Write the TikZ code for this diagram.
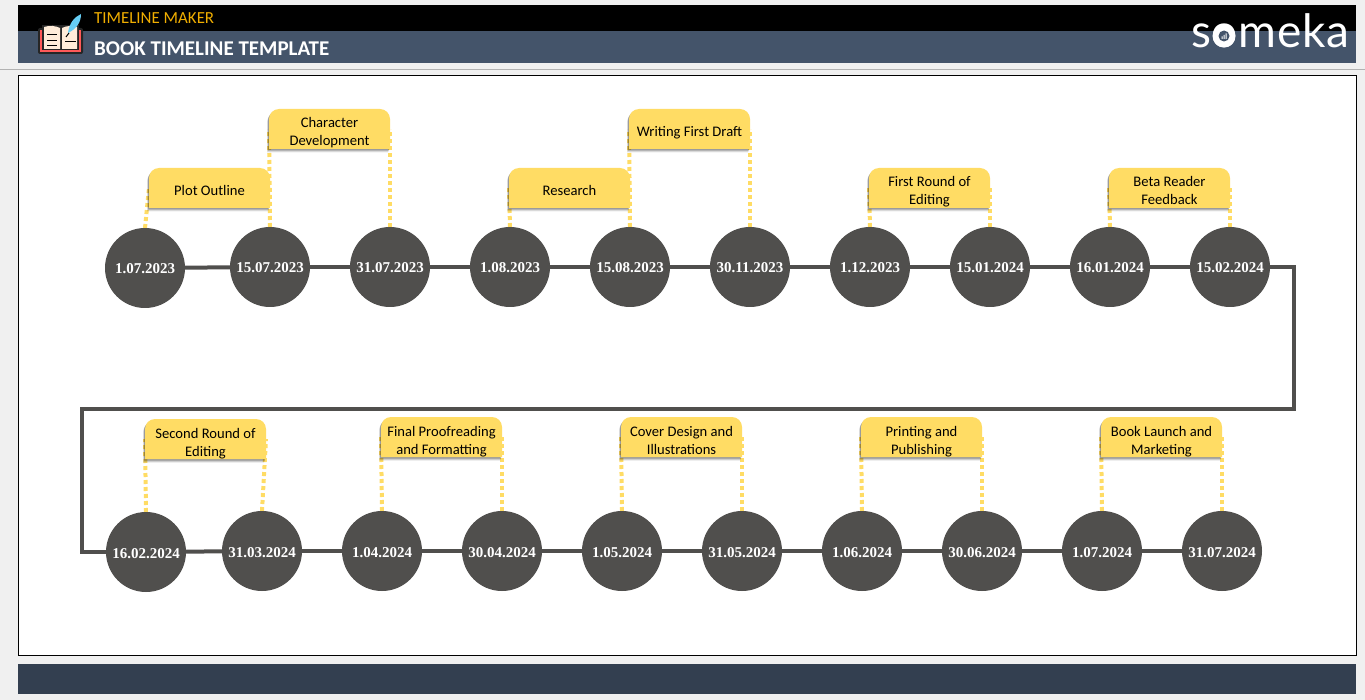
\documentclass[tikz,border=0pt]{standalone}
\usepackage{xcolor}
\usepackage{fontspec}
\usepackage{tikz}
\usetikzlibrary{backgrounds}
\usetikzlibrary{shadows}
\setmainfont{Carlito}
\newfontfamily\DATEFONT{Liberation Serif}
\newfontfamily\LOGOFONT[LetterSpace=1.5]{Lato}
\definecolor{PAGEGRAY}{HTML}{F0F0F0}
\definecolor{SLATE}{HTML}{44546A}
\definecolor{FOOTSLATE}{HTML}{333F50}
\definecolor{CIRCLEGRAY}{HTML}{504F4D}
\definecolor{NOTEYELLOW}{HTML}{FFDC64}
\definecolor{TITLEGOLD}{HTML}{F0AE00}
\begin{document}
\begin{tikzpicture}[x=1pt,y=-1pt]
% 1 = 1 pixel of the sheet
    \def\NOTEW{121}
    \def\NOTEH{40}

    \tikzset{
      datecircle/.style={circle,fill=CIRCLEGRAY,minimum size=80pt,inner sep=0pt,
        outer sep=0pt,text=white,font=\DATEFONT\bfseries\fontsize{15}{16}\selectfont,
        text height=12pt,text depth=0pt},
      notetext/.style={rectangle,minimum width=121pt,minimum height=40pt,inner sep=0pt,
        outer sep=0pt,align=center,font=\fontsize{14.6}{18}\selectfont},
      notefill/.style={fill=NOTEYELLOW,
        drop shadow={shadow xshift=-2pt,shadow yshift=-3.5pt,fill=black,opacity=0.10},
        drop shadow={shadow xshift=-1.5pt,shadow yshift=-2.5pt,fill=black,opacity=0.15},
        drop shadow={shadow xshift=-1pt,shadow yshift=-1.5pt,fill=black,opacity=0.20}},
      timeline/.style={line width=4pt,color=CIRCLEGRAY},
      datelink/.style={line width=4pt,color=NOTEYELLOW,dash pattern=on 4pt off 3pt},
    }

    % yellow note: name, left, top, text
    \def\NOTE#1#2#3#4{
      \fill[notefill] (#2,#3+\NOTEH) -- (#2,#3+10)
          .. controls (#2,#3+4.5) and (#2+4.5,#3) .. (#2+10,#3)
          -- (#2+\NOTEW-10,#3)
          .. controls (#2+\NOTEW-4.5,#3) and (#2+\NOTEW,#3+4.5) .. (#2+\NOTEW,#3+10)
          -- (#2+\NOTEW,#3+\NOTEH) -- cycle;
      \node[notetext] (#1) at (#2+\NOTEW/2,#3+\NOTEH/2) {\raisebox{-8pt}[0pt][0pt]{\begin{tabular}{@{}c@{}}#4\end{tabular}}};
    }

    \useasboundingbox (0,0) rectangle (1365,700);

    % SHEET AND PANEL
    \begin{pgfonlayer}{background}
    \fill[PAGEGRAY] (0,0) rectangle (1365,700);
    \draw[color=black!30,line width=1pt] (0,69.5) -- (1365,69.5);
    \draw[fill=white,draw=black,line width=1pt] (18.5,75.5) rectangle (1356.5,655.5);
    \end{pgfonlayer}

    % HEADER
    \fill[black] (18,5) rectangle (1356,31);
    \fill[SLATE] (18,31) rectangle (1356,63);
    \fill[FOOTSLATE] (18,664) rectangle (1356,694);
    \node[anchor=base west,inner sep=0pt,text=TITLEGOLD,font=\fontsize{16.9}{18}\selectfont]
        (TITLEONE) at (94,24) {TIMELINE MAKER};
    \node[anchor=base west,inner sep=0pt,text=white,font=\bfseries\fontsize{21}{22}\selectfont]
        (TITLETWO) at (94,55.5) {BOOK TIMELINE TEMPLATE};

    % BOOK ICON
    \fill[black!85,rounded corners=2pt] (38,28) rectangle (83,54);
    \fill[red!65!white] (40,30) rectangle (81,52);
    \fill[black!85] (42,25) rectangle (79,50.5);
    \fill[orange!15] (44,27) .. controls (50,25) and (56,26) .. (60,28) -- (60,49) -- (44,49) -- cycle;
    \fill[orange!15] (62,28) .. controls (66,26) and (72,25) .. (77,27) -- (77,49) -- (62,49) -- cycle;
    \draw[black,line width=1pt] (47,35) -- (57,35) (47,41) -- (57,41) (47,46) -- (57,46)
        (65,42) -- (76,42);
    \fill[cyan!60] (68,33) .. controls (69,24) and (74,17) .. (81,14)
        .. controls (81,23) and (76,29) .. (68,33) -- cycle;
    \draw[black,line width=1pt] (66,37) -- (69,33);

    % LOGO
    \node[anchor=base west,inner sep=0pt,text=white,font=\LOGOFONT\fontsize{46}{48}\selectfont]
        (LOGO) at (1191,47.5) {someka};
    \fill[white] (1224,36) circle (11.5);
    \fill[SLATE] (1224,36) circle (5.5);
    \fill[white] (1221.5,36.5) rectangle (1222.5,39) (1223.5,35) rectangle (1224.5,39)
        (1225.5,33.5) rectangle (1226.5,39);

    % FIRST ROW
    \node[datecircle] (DA) at (145,268) {1.07.2023};
    \node[datecircle] (DB) at (270,267) {15.07.2023};
    \node[datecircle] (DC) at (390,267) {31.07.2023};
    \node[datecircle] (DD) at (510,267) {1.08.2023};
    \node[datecircle] (DE) at (630,267) {15.08.2023};
    \node[datecircle] (DF) at (750,267) {30.11.2023};
    \node[datecircle] (DG) at (870,267) {1.12.2023};
    \node[datecircle] (DH) at (990,267) {15.01.2024};
    \node[datecircle] (DI) at (1110,267) {16.01.2024};
    \node[datecircle] (DJ) at (1230,267) {15.02.2024};

    % SECOND ROW
    \node[datecircle] (DK) at (146,552) {16.02.2024};
    \node[datecircle] (DL) at (262,551) {31.03.2024};
    \node[datecircle] (DM) at (382,551) {1.04.2024};
    \node[datecircle] (DN) at (502,551) {30.04.2024};
    \node[datecircle] (DO) at (622,551) {1.05.2024};
    \node[datecircle] (DP) at (742,551) {31.05.2024};
    \node[datecircle] (DQ) at (862,551) {1.06.2024};
    \node[datecircle] (DR) at (982,551) {30.06.2024};
    \node[datecircle] (DS) at (1102,551) {1.07.2024};
    \node[datecircle] (DT) at (1222,551) {31.07.2024};

    % NOTES
    \NOTE{NA}{149}{168}{Plot Outline}
    \NOTE{NB}{269}{109}{Character\\Development}
    \NOTE{NC}{509}{168}{Research}
    \NOTE{ND}{629}{109}{Writing First Draft}
    \NOTE{NE}{869}{168}{First Round of\\Editing}
    \NOTE{NF}{1109}{168}{Beta Reader\\Feedback}
    \NOTE{NG}{145}{419}{Second Round of\\Editing}
    \NOTE{NH}{381}{417}{Final Proofreading\\and Formatting}
    \NOTE{NI}{621}{417}{Cover Design and\\Illustrations}
    \NOTE{NJ}{861}{417}{Printing and\\Publishing}
    \NOTE{NK}{1101}{417}{Book Launch and\\Marketing}

    \coordinate (TURNA) at (1294,267);
    \coordinate (TURNB) at (1294,409);
    \coordinate (TURNC) at (82,409);
    \coordinate (TURND) at (82,552);

    \begin{pgfonlayer}{background}
    % TIMELINE
    \draw[timeline] (DA) -- (DB);
    \draw[timeline] (DB) -- (DC);
    \draw[timeline] (DC) -- (DD);
    \draw[timeline] (DD) -- (DE);
    \draw[timeline] (DE) -- (DF);
    \draw[timeline] (DF) -- (DG);
    \draw[timeline] (DG) -- (DH);
    \draw[timeline] (DH) -- (DI);
    \draw[timeline] (DI) -- (DJ);
    \draw[timeline] (DJ) -- (TURNA) -- (TURNB) -- (TURNC) -- (TURND) -- (DK);
    \draw[timeline] (DK) -- (DL);
    \draw[timeline] (DL) -- (DM);
    \draw[timeline] (DM) -- (DN);
    \draw[timeline] (DN) -- (DO);
    \draw[timeline] (DO) -- (DP);
    \draw[timeline] (DP) -- (DQ);
    \draw[timeline] (DQ) -- (DR);
    \draw[timeline] (DR) -- (DS);
    \draw[timeline] (DS) -- (DT);

    % DOTTED LINKS
    \draw[datelink] (DA.north) -- (NA.west);
    \draw[datelink] (DB.north) -- (NA.east);
    \draw[datelink] (DB.north) -- (NB.west);
    \draw[datelink] (DC.north) -- (NB.east);
    \draw[datelink] (DD.north) -- (NC.west);
    \draw[datelink] (DE.north) -- (NC.east);
    \draw[datelink] (DE.north) -- (ND.west);
    \draw[datelink] (DF.north) -- (ND.east);
    \draw[datelink] (DG.north) -- (NE.west);
    \draw[datelink] (DH.north) -- (NE.east);
    \draw[datelink] (DI.north) -- (NF.west);
    \draw[datelink] (DJ.north) -- (NF.east);
    \draw[datelink] (DK.north) -- (NG.west);
    \draw[datelink] (DL.north) -- (NG.east);
    \draw[datelink] (DM.north) -- (NH.west);
    \draw[datelink] (DN.north) -- (NH.east);
    \draw[datelink] (DO.north) -- (NI.west);
    \draw[datelink] (DP.north) -- (NI.east);
    \draw[datelink] (DQ.north) -- (NJ.west);
    \draw[datelink] (DR.north) -- (NJ.east);
    \draw[datelink] (DS.north) -- (NK.west);
    \draw[datelink] (DT.north) -- (NK.east);
    \end{pgfonlayer}
\end{tikzpicture}
\end{document}
